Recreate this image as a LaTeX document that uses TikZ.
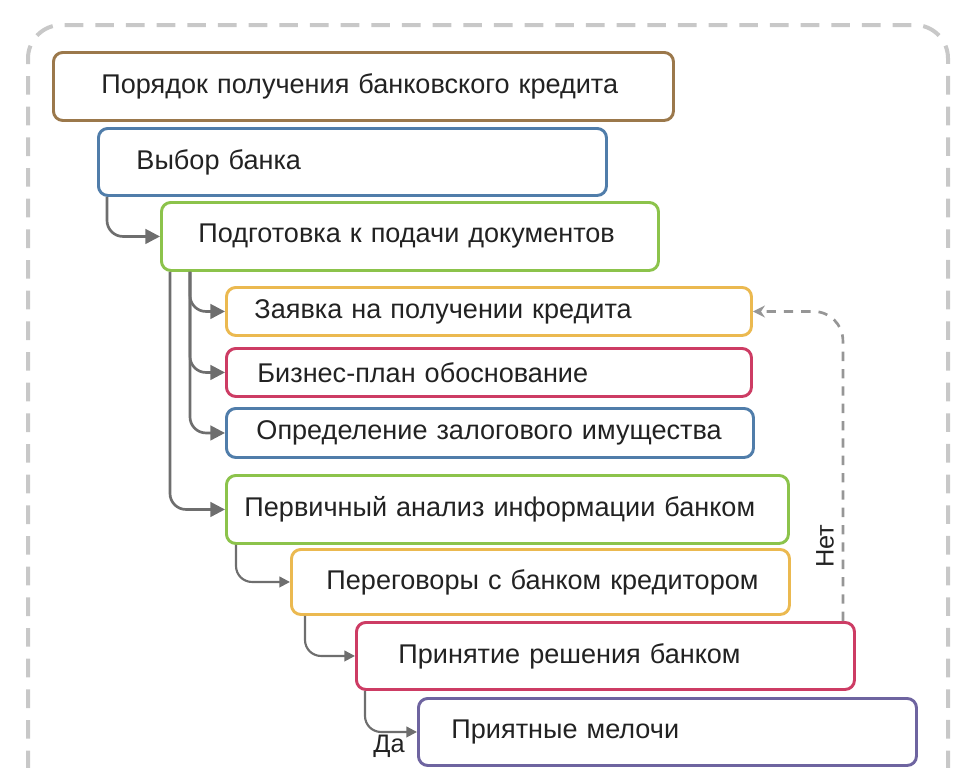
\documentclass[tikz,border=0pt]{standalone}
\usepackage{fontspec}
\setmainfont{Liberation Sans}
\usetikzlibrary{arrows.meta,calc}
\definecolor{cbrown}{RGB}{155,120,75}
\definecolor{cblue}{RGB}{80,125,170}
\definecolor{cgreen}{RGB}{140,195,75}
\definecolor{corange}{RGB}{235,185,80}
\definecolor{cred}{RGB}{205,60,100}
\definecolor{cpurple}{RGB}{110,100,160}
\definecolor{cgray}{RGB}{110,110,110}
\definecolor{cdash}{RGB}{150,150,150}
\definecolor{couter}{RGB}{200,200,200}
\definecolor{txt}{RGB}{34,34,34}
\begin{document}
\begin{tikzpicture}[x=0.75pt,y=-0.75pt,
  box/.style={draw=#1, line width=2.2pt, rounded corners=7pt, fill=white,
    anchor=north west, align=left, font=\fontsize{20.3}{24}\selectfont,
    text=txt, inner ysep=0pt},
  conn/.style={draw=cgray, line width=2pt, rounded corners=12pt,
    -{Triangle[length=11pt,width=11pt]}},
  sconn/.style={draw=cgray, line width=1.6pt, rounded corners=12pt,
    -{Triangle[length=8pt,width=8pt]}},
  dconn/.style={draw=cdash, line width=2pt, rounded corners=22pt,
    dash pattern=on 7pt off 6pt, -{Stealth[length=9pt,width=9pt]}},
  lbl/.style={font=\fontsize{19}{22}\selectfont, text=txt, inner sep=0pt},
]
\useasboundingbox (0,0) rectangle (979,768);
\draw[couter, line width=3pt, dash pattern=on 14pt off 9pt, rounded corners=25pt]
  (28,800) -- (28,25) -- (948,25) -- (948,800);

\node[box=cbrown, minimum width=465pt, minimum height=51pt, inner xsep=36pt, text width=393pt] (top) at (52,51) {\mbox{Порядок получения банковского кредита}};
\node[box=cblue, minimum width=381pt, minimum height=50.25pt, inner xsep=28.5pt, text width=324pt] (vyb) at (97,127) {\mbox{Выбор банка}};
\node[box=cgreen, minimum width=372.75pt, minimum height=51pt, inner xsep=27.75pt, text width=317.25pt] (prep) at (160,201) {\mbox{Подготовка к подачи документов}};
\node[box=corange, minimum width=393.75pt, minimum height=36pt, inner xsep=21pt, text width=351.75pt] (zay) at (225,286) {\mbox{Заявка на получении кредита}};
\node[box=cred, minimum width=393.75pt, minimum height=36pt, inner xsep=23.25pt, text width=347.25pt] (biz) at (225,347) {\mbox{Бизнес-план обоснование}};
\node[box=cblue, minimum width=395.25pt, minimum height=36.75pt, inner xsep=22.5pt, text width=350.25pt] (opr) at (225,407) {\mbox{Определение залогового имущества}};
\node[box=cgreen, minimum width=421.5pt, minimum height=51pt, inner xsep=13.5pt, text width=394.5pt] (perv) at (225,474) {\mbox{Первичный анализ информации банком}};
\node[box=corange, minimum width=373.5pt, minimum height=48.75pt, inner xsep=26.25pt, text width=321pt] (per) at (290,548) {\mbox{Переговоры с банком кредитором}};
\node[box=cred, minimum width=373.5pt, minimum height=50.25pt, inner xsep=31.5pt, text width=310.5pt] (dec) at (355,621) {\mbox{Принятие решения банком}};
\node[box=cpurple, minimum width=373.5pt, minimum height=50.25pt, inner xsep=24.75pt, text width=324pt] (pri) at (417,697) {\mbox{Приятные мелочи}};

\draw[conn] ($(vyb.south west)+(10,0)$) |- (prep.west);
\draw[conn] ($(prep.south west)+(30,0)$) |- (zay.west);
\draw[conn] ($(prep.south west)+(30,0)$) |- (biz.west);
\draw[conn] ($(prep.south west)+(30,0)$) |- (opr.west);
\draw[conn] ($(prep.south west)+(10,0)$) |- (perv.west);
\draw[sconn] ($(perv.south west)+(11,0)$) |- (per.west);
\draw[sconn] ($(per.south west)+(15,0)$) |- (dec.west);
\draw[sconn] ($(dec.south west)+(10,0)$) |- (pri.west);
\draw[dconn] ($(dec.north east)+(-13,0)$) |- (zay.east);

\node[lbl] (da) at (389,746) {Да};
\node[lbl, rotate=90] (net) at (825,546) {Нет};
\end{tikzpicture}
\end{document}
